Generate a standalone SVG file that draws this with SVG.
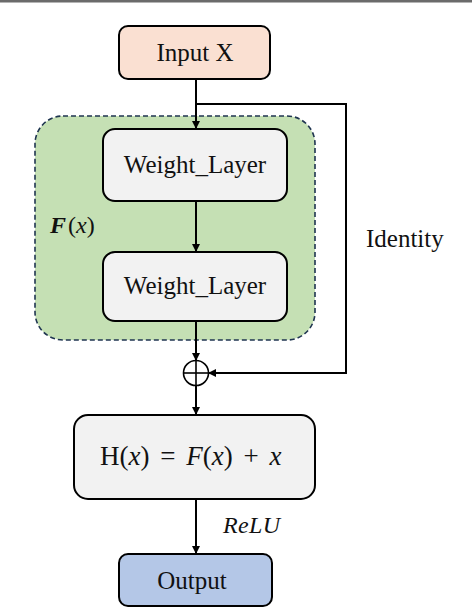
<svg xmlns="http://www.w3.org/2000/svg" width="472" height="608" viewBox="0 0 472 608">
<defs>
<marker id="ah" markerWidth="8" markerHeight="8" refX="7" refY="4" orient="auto" markerUnits="userSpaceOnUse">
<path d="M0,0 L8,4 L0,8 Z" fill="#000"/>
</marker>
<style>
.box{stroke:#000;stroke-width:2}
.t{font-family:"Liberation Serif",serif;font-size:25px;fill:#111;text-anchor:middle}
.m{font-family:"Liberation Serif",serif;font-style:italic;font-size:24px;fill:#111}
.c{fill:none;stroke:#000;stroke-width:2}
</style>
</defs>
<rect x="0" y="0" width="472" height="608" fill="#fff"/>
<rect x="0" y="0" width="472" height="2.5" fill="#6b6b6b"/>
<g id="residual-block">
<rect x="35" y="116" width="280" height="224" rx="28" fill="#c5e0b4" stroke="#1f3550" stroke-width="1.6" stroke-dasharray="5,3"/>
<text x="50" y="233" class="m" font-size="26"><tspan font-weight="bold">F</tspan><tspan font-style="normal" dx="2">(</tspan>x<tspan font-style="normal">)</tspan></text>
</g>
<g id="input">
<rect class="box" x="119" y="26" width="151" height="53" rx="9" fill="#fae0d2"/>
<text class="t" x="195" y="61">Input X</text>
</g>
<g id="weight1">
<rect class="box" x="103" y="129" width="184" height="72" rx="12" fill="#f2f2f2"/>
<text class="t" x="195" y="173" font-size="24.2">Weight_Layer</text>
</g>
<g id="weight2">
<rect class="box" x="103" y="252" width="184" height="69" rx="12" fill="#f2f2f2"/>
<text class="t" x="195" y="294" font-size="24.2">Weight_Layer</text>
</g>
<g id="add">
<circle cx="196" cy="373" r="12.5" fill="none" stroke="#000" stroke-width="1.6"/>
<line x1="183.5" y1="373" x2="208.5" y2="373" stroke="#000" stroke-width="1.6"/>
<line x1="196" y1="360.5" x2="196" y2="385.5" stroke="#000" stroke-width="1.6"/>
</g>
<g id="hx">
<rect class="box" x="74" y="415" width="241" height="84" rx="14" fill="#f2f2f2"/>
<text x="100" y="465" font-family="'Liberation Serif',serif" font-size="27" fill="#111" word-spacing="4">H(<tspan font-style="italic">x</tspan>) = <tspan font-style="italic">F</tspan>(<tspan font-style="italic">x</tspan>) + <tspan font-style="italic">x</tspan></text>
</g>
<g id="output">
<rect class="box" x="119" y="554" width="153" height="52" rx="9" fill="#b4c7e7"/>
<text class="t" x="192" y="589">Output</text>
</g>
<g id="labels">
<text class="m" x="223" y="533" textLength="57" lengthAdjust="spacing">ReLU</text>
<text x="366" y="247" font-family="'Liberation Serif',serif" font-size="25" fill="#111">Identity</text>
</g>
<g id="connectors">
<line class="c" x1="196" y1="79" x2="196" y2="128" marker-end="url(#ah)"/>
<polyline class="c" points="196,104 346,104 346,373 209,373" marker-end="url(#ah)"/>
<line class="c" x1="196" y1="201" x2="196" y2="251" marker-end="url(#ah)"/>
<line class="c" x1="196" y1="321" x2="196" y2="360" marker-end="url(#ah)"/>
<line class="c" x1="196" y1="386" x2="196" y2="414" marker-end="url(#ah)"/>
<line class="c" x1="196" y1="499" x2="196" y2="553" marker-end="url(#ah)"/>
</g>
</svg>
